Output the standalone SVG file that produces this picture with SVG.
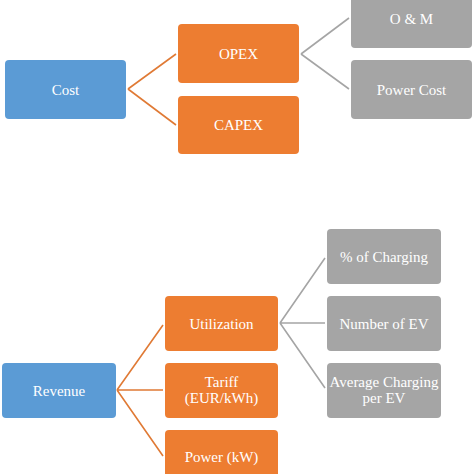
<svg xmlns="http://www.w3.org/2000/svg" width="474" height="474" viewBox="0 0 474 474">
<style>
.blue{fill:#5B9BD5}
.orange{fill:#ED7D31}
.gray{fill:#A5A5A5}
text{font-family:"Liberation Serif","Times New Roman",serif;font-size:15px;fill:#FFFFFF;text-anchor:middle;dominant-baseline:central}
.lo{stroke:#E07A35;stroke-width:1.6;fill:none}
.lg{stroke:#A5A5A5;stroke-width:1.6;fill:none}
</style>
<rect width="474" height="474" fill="#FFFFFF"/>
<g id="connectors">
<path class="lo" d="M128,89 L176,54 M128,89 L176,125"/>
<path class="lg" d="M301,54 L349,18 M301,54 L349,89"/>
<path class="lo" d="M117,390 L163,325 M117,390 L163,390 M117,390 L163,456"/>
<path class="lg" d="M280,323 L325,258 M280,323 L325,323 M280,323 L325,388"/>
</g>
<g id="cost"><rect class="blue" x="5" y="60" width="121" height="59" rx="4"/><text x="65.5" y="89.5">Cost</text></g>
<g id="opex"><rect class="orange" x="178" y="24" width="121" height="59" rx="4"/><text x="238.5" y="53.5">OPEX</text></g>
<g id="capex"><rect class="orange" x="178" y="96" width="121" height="58" rx="4"/><text x="238.5" y="125">CAPEX</text></g>
<g id="om"><rect class="gray" x="351" y="-11" width="121" height="59" rx="4"/><text x="411.5" y="18.5">O &amp; M</text></g>
<g id="powercost"><rect class="gray" x="351" y="60" width="121" height="59" rx="4"/><text x="411.5" y="89.5">Power Cost</text></g>
<g id="revenue"><rect class="blue" x="2" y="363" width="114" height="55" rx="4"/><text x="59" y="390.5">Revenue</text></g>
<g id="utilization"><rect class="orange" x="165" y="296" width="113" height="55" rx="4"/><text x="221.5" y="323.5">Utilization</text></g>
<g id="tariff"><rect class="orange" x="165" y="363" width="113" height="55" rx="4"/><text x="221.5" y="382">Tariff</text><text x="221.5" y="398">(EUR/kWh)</text></g>
<g id="power"><rect class="orange" x="165" y="430" width="113" height="55" rx="4"/><text x="221.5" y="457">Power (kW)</text></g>
<g id="charging"><rect class="gray" x="327" y="229" width="114" height="55" rx="4"/><text x="384" y="256.5">% of Charging</text></g>
<g id="numberev"><rect class="gray" x="327" y="296" width="114" height="55" rx="4"/><text x="384" y="323.5">Number of EV</text></g>
<g id="avgcharging"><rect class="gray" x="327" y="363" width="114" height="55" rx="4"/><text x="384" y="382">Average Charging</text><text x="384" y="398">per EV</text></g>
</svg>
